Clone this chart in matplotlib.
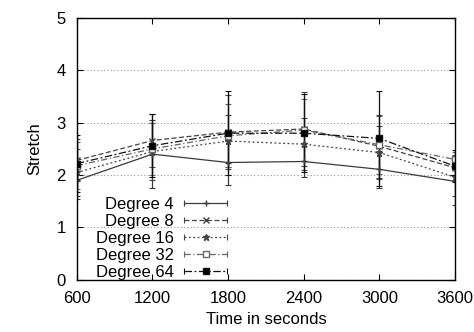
import matplotlib
matplotlib.use("Agg")
import matplotlib.pyplot as plt
from matplotlib.lines import Line2D
from matplotlib.legend_handler import HandlerLine2D

plt.rcParams['font.family'] = ['Liberation Sans', 'DejaVu Sans']

times = [600, 1200, 1800, 2400, 3000, 3600]
labels = ['Degree 4', 'Degree 8', 'Degree 16', 'Degree 32', 'Degree 64']

deg4 = [1.90, 2.40, 2.24, 2.26, 2.11, 1.88]
deg8 = [2.28, 2.66, 2.82, 2.88, 2.55, 2.14]
deg16 = [2.05, 2.45, 2.65, 2.59, 2.43, 1.96]
deg32 = [2.18, 2.50, 2.75, 2.86, 2.58, 2.30]
deg64 = [2.22, 2.56, 2.80, 2.80, 2.70, 2.17]

err4 = [0.35, 0.65, 0.42, 0.30, 0.35, 0.45]
err8 = [0.40, 0.50, 0.70, 0.70, 0.60, 0.25]
err16 = [0.45, 0.55, 0.50, 0.50, 0.50, 0.35]
err32 = [0.45, 0.50, 0.60, 0.60, 0.55, 0.15]
err64 = [0.55, 0.60, 0.80, 0.75, 0.90, 0.30]

series = [deg4, deg8, deg16, deg32, deg64]
errors = [err4, err8, err16, err32, err64]
styles = [
    dict(ls='-', marker='+', ms=4, mfc='#333333', color='#3a3a3a'),
    dict(ls=(0, (4, 2)), marker='x', ms=4, mfc='#333333', color='#444444'),
    dict(ls=(0, (1.5, 2)), marker='*', ms=5, mfc='#444444', color='#444444'),
    dict(ls=(0, (5, 2, 1, 2)), marker='s', ms=5, mfc='white', color='#666666'),
    dict(ls=(0, (6, 2, 1.5, 2)), marker='s', ms=5, mfc='black', color='#111111'),
]


class CapHandler(HandlerLine2D):
    # gnuplot style key: line with small caps at both ends
    def create_artists(self, legend, orig, xdescent, ydescent, width, height, fontsize, trans):
        arts = super().create_artists(legend, orig, xdescent, ydescent, width, height, fontsize, trans)
        y = (height - ydescent) / 2
        caps = Line2D([-xdescent, -xdescent + width], [y, y], ls='none', marker='|',
                      ms=5, mew=0.8, color=orig.get_color(), transform=trans)
        return arts + [caps]


fig = plt.figure(figsize=(4.74, 3.32), dpi=100)
ax = fig.add_axes([0.162, 0.157, 0.798, 0.789])

handles = []
for vals, err, st, lab in zip(series, errors, styles, labels):
    ax.errorbar(times, vals, yerr=err, color=st['color'], ls=st['ls'], lw=0.9,
                marker=st['marker'], ms=st['ms'], mfc=st['mfc'], mec=st['color'],
                elinewidth=0.9, capsize=2.5, capthick=0.8)
    handles.append(Line2D([], [], color=st['color'], ls=st['ls'], lw=0.9,
                          marker=st['marker'], ms=st['ms'], mfc=st['mfc'],
                          mec=st['color'], label=lab))

ax.set_xlim(600, 3600)
ax.set_ylim(0, 5)
ax.set_xticks(times)
ax.set_yticks([0, 1, 2, 3, 4, 5])
ax.grid(axis='y', color='#999999', ls=(0, (1, 2)), lw=0.8)
ax.tick_params(direction='in', top=True, right=True, labelsize=12, length=4, pad=8)
for s in ax.spines.values():
    s.set_linewidth(1.0)
ax.set_xlabel('Time in seconds', fontsize=12, labelpad=4)
ax.set_ylabel('Stretch', fontsize=12, labelpad=10)

ax.legend(handles=handles, loc='lower left', bbox_to_anchor=(0.02, -0.045),
          frameon=False, markerfirst=False, fontsize=12, handlelength=2.6,
          labelspacing=0.12, handletextpad=0.6, borderaxespad=0.3,
          handler_map={Line2D: CapHandler(numpoints=1)})

fig.savefig('out.png', dpi=100)
